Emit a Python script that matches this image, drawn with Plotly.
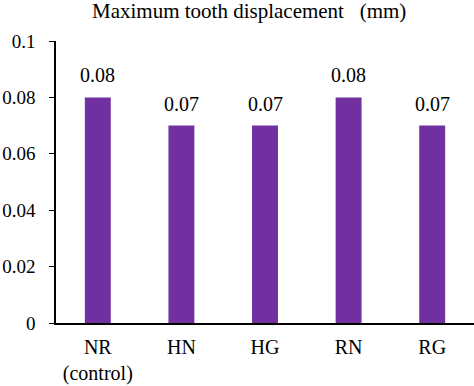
import plotly.graph_objects as go

categories = ["NR<br>(control)", "HN", "HG", "RN", "RG"]
values = [0.08, 0.07, 0.07, 0.08, 0.07]
labels = ["0.08", "0.07", "0.07", "0.08", "0.07"]
y_ticks = [0, 0.02, 0.04, 0.06, 0.08, 0.1]
y_ticktext = ["0", "0.02", "0.04", "0.06", "0.08", "0.1"]

FONT = "Liberation Serif"

W, H = 474, 386
L, R, T, B = 56, 0, 41, 63
PW, PH = W - L - R, H - T - B

fig = go.Figure(go.Bar(
    x=categories, y=values,
    marker=dict(color="#7030A0", line=dict(width=0)),
    width=0.31, hoverinfo="x+y",
))

annotations = [dict(text="Maximum tooth displacement\u00a0\u00a0\u00a0(mm)",
                    x=(249 - L) / PW, y=1 + (T - 11) / PH,
                    xref="paper", yref="paper", showarrow=False,
                    xanchor="center", yanchor="middle",
                    font=dict(size=21, family=FONT, color="black"))]
for c, v, t in zip(categories, values, labels):
    annotations.append(dict(text=t, x=c, y=v, xref="x", yref="y", showarrow=False,
                            xanchor="center", yanchor="bottom", yshift=9,
                            font=dict(size=20, family=FONT, color="black")))

fig.update_layout(
    width=W, height=H,
    margin=dict(l=L, r=R, t=T, b=B, autoexpand=False),
    paper_bgcolor="white", plot_bgcolor="white",
    font=dict(family=FONT, size=19, color="black"),
    showlegend=False,
    annotations=annotations,
)

fig.update_xaxes(showline=True, linecolor="black", linewidth=1.5, ticks="",
                 showgrid=False, automargin=False, ticklabelstandoff=5,
                 tickfont=dict(size=20, family=FONT))
fig.update_yaxes(range=[0, 0.1], tickvals=y_ticks, ticktext=y_ticktext,
                 showline=True, linecolor="black", linewidth=1.5,
                 ticks="outside", ticklen=5, tickcolor="black", tickwidth=1,
                 showgrid=False, zeroline=False, automargin=False,
                 ticklabelstandoff=10,
                 tickfont=dict(size=19, family=FONT))

fig.write_html("out.html", config={"displayModeBar": False},
               post_script="document.body.style.margin='0';")
